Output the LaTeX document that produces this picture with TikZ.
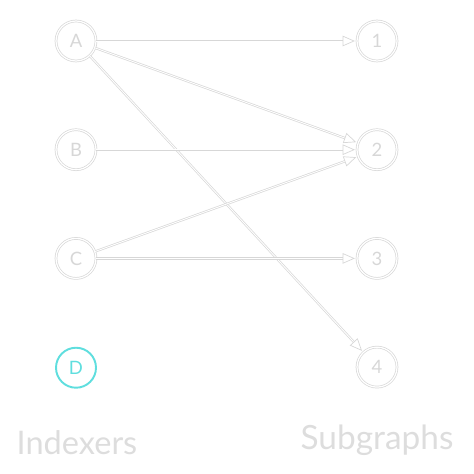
\documentclass[tikz,border=0pt]{standalone}
\usepackage{fontspec}
\setmainfont{Lato}
\usepackage{xcolor}
\usetikzlibrary{positioning,arrows.meta}
\definecolor{ghost}{RGB}{215,215,215}
\definecolor{teal}{RGB}{95,222,222}
\begin{document}
\begin{tikzpicture}[node distance=1.36cm,
      every node/.style={align=center},
      vert/.style={circle, draw=ghost, double=white, double distance=0.7pt,
        minimum size=0.8cm, inner sep=0pt, text=ghost, font=\fontsize{10.5}{12}\selectfont},
      link/.style={draw=ghost, double=white, double distance=0.5pt,
        -{Triangle[open,length=7pt,width=6pt]}, shorten >=1pt},
      caption/.style={text=ghost!85}]
    \useasboundingbox (0,0) rectangle (9.48,-9.48);
    \node[vert] (a) at (1.52,-0.82) {A};
    \node[vert,below=of a] (b) {B};
    \node[vert,below=of b] (c) {C};
    \node[vert,below=of c,draw=teal,double=none,line width=1.1pt,text=teal] (d) {D};
    \node[vert] (1) at (7.54,-0.82) {1};
    \node[vert,below=of 1] (2) {2};
    \node[vert,below=of 2] (3) {3};
    \node[vert,below=of 3] (4) {4};
    \node[caption,font=\fontsize{18.5}{22}\selectfont] (idx) at (1.54,-8.86) {Indexers};
    \node[caption,font=\fontsize{19}{22}\selectfont] (sub) at (7.54,-8.80) {Subgraphs};
    \draw[link] (a) -- (1);
    \draw[link] (a) -- (2);
    \draw[link] (a) -- (4);
    \draw[link] (b) -- (2);
    \draw[link] (c) -- (2);
    \draw[link] (c) -- (3);
  \end{tikzpicture}
\end{document}
